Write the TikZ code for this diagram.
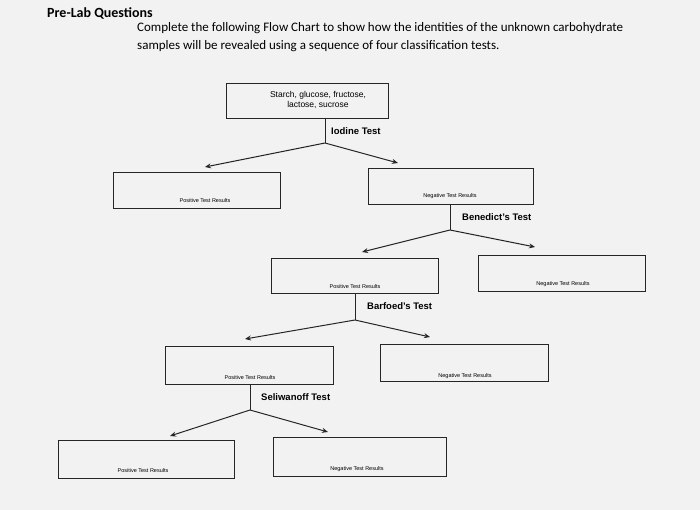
\documentclass[tikz,border=0pt]{standalone}
\usepackage{fontspec}
\setmainfont{Liberation Sans}
\newfontfamily\bodyfont{Carlito}
\usetikzlibrary{arrows.meta}
\begin{document}
\begin{tikzpicture}[x=1pt,y=-1pt,
  boxst/.style={draw=black!85,line width=0.9pt,inner sep=0pt,anchor=north west},
  small/.style={font=\fontsize{5.5}{6}\selectfont,inner sep=0pt},
  testlbl/.style={font=\bfseries\fontsize{9.5}{11}\selectfont,inner sep=0pt,anchor=west},
  conn/.style={draw=black!85,line width=1pt},
  arr/.style={conn,-{Stealth[length=6pt,width=5pt]}}]
\fill[black!5] (0,0) rectangle (700,510);
\useasboundingbox (0,0) rectangle (700,510);
\node[anchor=west,inner sep=0pt,font=\bodyfont\bfseries\fontsize{14}{16}\selectfont] (title) at (47,13) {Pre-Lab Questions};
\node[anchor=north west,inner sep=0pt,align=left,font=\bodyfont\fontsize{13}{18}\selectfont] (para) at (137,22)
 {Complete the following Flow Chart to show how the identities of the unknown carbohydrate\\samples will be revealed using a sequence of four classification tests.};
% top box
\node[boxst,minimum width=162pt,minimum height=35pt] (b0) at (226,83) {};
\node[align=center,inner sep=0pt,font=\fontsize{8.5}{10}\selectfont] (b0t) at (318,100) {Starch, glucose, fructose,\\lactose, sucrose};
\coordinate (j0) at (325,143);
\draw[conn] (b0.south -| j0) -- (j0);
\node[testlbl] (t0) at (331,131) {Iodine Test};
\coordinate (e0l) at (205,167); \coordinate (e0r) at (398,163);
\draw[arr] (j0) -- (e0l); \draw[arr] (j0) -- (e0r);
% level 1
\node[boxst,minimum width=167pt,minimum height=36pt] (p1) at (113,172) {};
\node[small] (p1t) at (205,201) {Positive Test Results};
\node[boxst,minimum width=165pt,minimum height=36pt] (n1) at (368,168) {};
\node[small] (n1t) at (450,196) {Negative Test Results};
\coordinate (j1) at (450,230);
\draw[conn] (n1.south -| j1) -- (j1);
\node[testlbl] (t1) at (462,217) {Benedict's Test};
\coordinate (e1l) at (362,252); \coordinate (e1r) at (535,247);
\draw[arr] (j1) -- (e1l); \draw[arr] (j1) -- (e1r);
% level 2
\node[boxst,minimum width=167pt,minimum height=35pt] (p2) at (271,258) {};
\node[small] (p2t) at (355,287) {Positive Test Results};
\node[boxst,minimum width=167pt,minimum height=36pt] (n2) at (478,255) {};
\node[small] (n2t) at (563,284) {Negative Test Results};
\coordinate (j2) at (355,320);
\draw[conn] (p2.south -| j2) -- (j2);
\node[testlbl] (t2) at (367,306) {Barfoed's Test};
\coordinate (e2l) at (245,339); \coordinate (e2r) at (430,337);
\draw[arr] (j2) -- (e2l); \draw[arr] (j2) -- (e2r);
% level 3
\node[boxst,minimum width=168pt,minimum height=38pt] (p3) at (165,346) {};
\node[small] (p3t) at (250,378) {Positive Test Results};
\node[boxst,minimum width=168pt,minimum height=37pt] (n3) at (380,344) {};
\node[small] (n3t) at (465,376) {Negative Test Results};
\coordinate (j3) at (250,410);
\draw[conn] (p3.south -| j3) -- (j3);
\node[testlbl] (t3) at (261,397) {Seliwanoff Test};
\coordinate (e3l) at (170,436); \coordinate (e3r) at (328,432);
\draw[arr] (j3) -- (e3l); \draw[arr] (j3) -- (e3r);
% level 4
\node[boxst,minimum width=176pt,minimum height=38pt] (p4) at (58,440) {};
\node[small] (p4t) at (143,471) {Positive Test Results};
\node[boxst,minimum width=173pt,minimum height=39pt] (n4) at (273,437) {};
\node[small] (n4t) at (357,469) {Negative Test Results};
\end{tikzpicture}
\end{document}
